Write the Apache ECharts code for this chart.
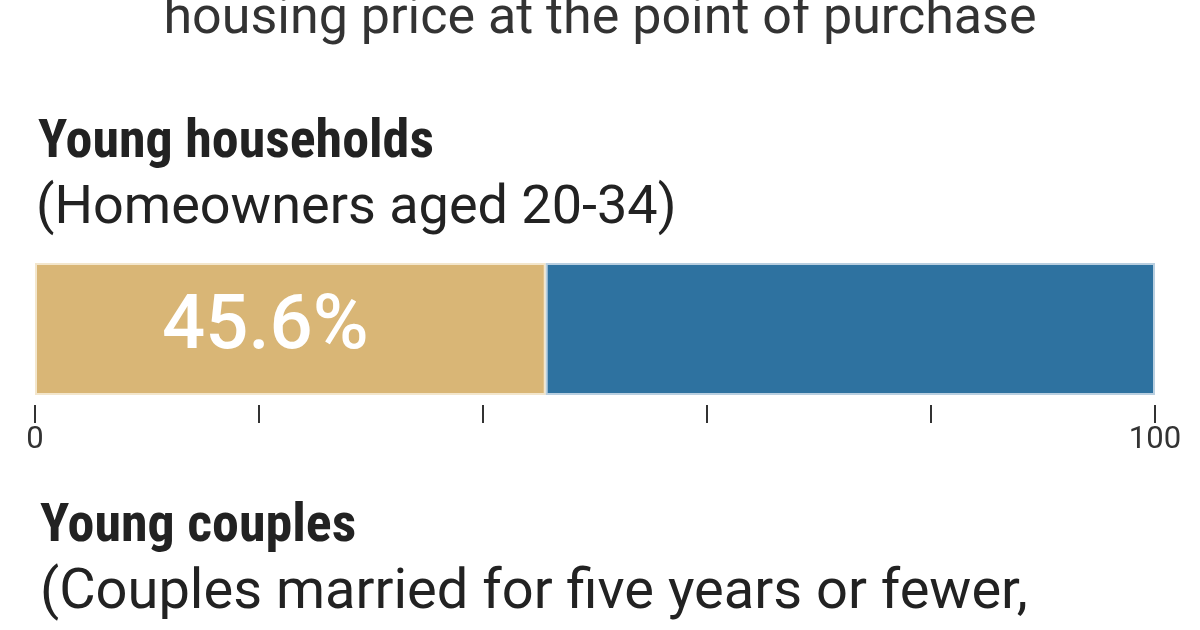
<!DOCTYPE html>
<html>
<head>
<meta charset="utf-8">
<script src="https://cdn.jsdelivr.net/npm/echarts@6/dist/echarts.min.js"></script>
<style>html,body{margin:0;background:#fff}#chart{width:1200px;height:630px}</style>
</head>
<body>
<div id="chart"></div>
<script>
var categories = ['Young households'];
var shareValues = [45.6];
var restValues = [54.4];
var tickLabels = ['0', '100'];

var myChart = echarts.init(document.getElementById('chart'));

var option = {
    backgroundColor: '#fff',
    animation: false,
    grid: { left: 35, right: 45, top: 263, height: 132 },
    xAxis: {
        type: 'value', min: 0, max: 100, interval: 20,
        offset: 10,
        axisLine: { show: false },
        splitLine: { show: false },
        axisTick: { show: true, length: 18, lineStyle: { color: '#333', width: 2 } },
        axisLabel: {
            margin: 20, color: '#333', fontSize: 31, fontFamily: 'Roboto',
            formatter: function (v) {
                if (v === 0) return tickLabels[0];
                if (v === 100) return tickLabels[1];
                return '';
            }
        }
    },
    yAxis: { type: 'category', data: categories, show: false },
    series: [
        {
            type: 'bar', stack: 's', data: shareValues, barWidth: '100%',
            itemStyle: { color: '#d9b676', borderColor: '#f3e6cc', borderWidth: 2 },
            label: {
                show: true, position: 'inside', color: '#fff', fontSize: 76,
                fontFamily: 'Roboto', fontWeight: 500, offset: [-25, 0],
                formatter: function (p) { return p.value.toFixed(1) + '%'; }
            }
        },
        {
            type: 'bar', stack: 's', data: restValues,
            itemStyle: { color: '#2e72a0', borderColor: '#b9cfe0', borderWidth: 2 }
        }
    ],
    graphic: [
        { type: 'text', left: 'center', top: -6, style: { text: 'housing price at the point of purchase', fontSize: 52, fill: '#333', fontFamily: 'Roboto' } },
        { type: 'text', left: 38, top: 116, style: { text: 'Young households', fontSize: 54, fontWeight: 'bold', fill: '#222', fontFamily: 'Roboto Condensed, Roboto' } },
        { type: 'text', left: 36, top: 182, style: { text: '(Homeowners aged 20-34)', fontSize: 54, fill: '#222', fontFamily: 'Roboto' } },
        { type: 'text', left: 40, top: 500, style: { text: 'Young couples', fontSize: 54, fontWeight: 'bold', fill: '#222', fontFamily: 'Roboto Condensed, Roboto' } },
        { type: 'text', left: 40, top: 566, style: { text: '(Couples married for five years or fewer,', fontSize: 56, fill: '#222', fontFamily: 'Roboto' } }
    ]
};
option && myChart.setOption(option);
</script>
</body>
</html>
